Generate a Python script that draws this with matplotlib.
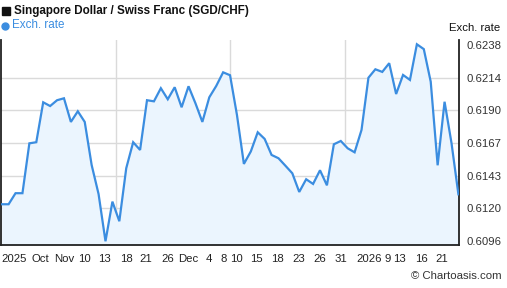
import matplotlib
matplotlib.use("Agg")
import matplotlib.pyplot as plt
from matplotlib.lines import Line2D

plt.rcParams['font.family'] = ['Liberation Sans', 'DejaVu Sans']

rates = [
    0.61227, 0.61227, 0.61307, 0.61307, 0.61668, 0.61676, 0.61965, 0.61938,
    0.61980, 0.61994, 0.61823, 0.61900, 0.61823, 0.61511, 0.61301, 0.60959,
    0.61246, 0.61104, 0.61488, 0.61676, 0.61620, 0.61980, 0.61972, 0.62067,
    0.61987, 0.62074, 0.61929, 0.62081, 0.61958, 0.61823, 0.62001, 0.62083,
    0.62182, 0.62161, 0.61873, 0.61519, 0.61609, 0.61748, 0.61700, 0.61584,
    0.61560, 0.61506, 0.61451, 0.61316, 0.61408, 0.61374, 0.61473, 0.61364,
    0.61661, 0.61685, 0.61632, 0.61603, 0.61765, 0.62143, 0.62204, 0.62185,
    0.62248, 0.62025, 0.62163, 0.62127, 0.62385, 0.62350, 0.62114, 0.61509,
    0.61969, 0.61671, 0.61299,
]

ytick_vals = [0.6096, 0.61197, 0.61433, 0.6167, 0.61907, 0.62143, 0.6238]
ytick_labels = ["0.6096", "0.6120", "0.6143", "0.6167", "0.6190", "0.6214", "0.6238"]

xtick_labels = ["2025", "Oct", "Nov", "10", "13", "18", "21", "26", "Dec", "4", "8", "10",
                "15", "18", "23", "26", "31", "2026", "9", "13", "16", "21"]
xtick_pos = [1.78, 5.53, 9.0, 11.9, 14.9, 17.96, 20.85, 24.0, 26.9, 29.96, 32.05, 33.86,
             36.75, 39.8, 42.96, 46.0, 49.03, 53.1, 55.85, 57.5, 60.6, 63.65]

W, H = 507, 288
fig = plt.figure(figsize=(W / 100, H / 100), dpi=100)
ax = fig.add_axes([1 / W, (H - 245) / H, (459.3 - 1) / W, (245 - 40) / H])

x = list(range(len(rates)))
xmin, xmax = -0.1, 66.13
ymin, ymax = 0.60932, 0.62416
ax.set_xlim(xmin, xmax)
ax.set_ylim(ymin, ymax)

grid_c = "#dadada"
for v in ytick_vals[1:-1]:
    ax.axhline(v, color=grid_c, lw=1, zorder=1)
for f in (0.25, 0.5, 0.75):
    ax.axvline(xmin + f * (xmax - xmin), color=grid_c, lw=1, zorder=1)

line_c = "#3b8de0"
ax.fill_between(x, rates, ymin, color="#ebf5fe", zorder=2, lw=0)
ax.plot(x, rates, color=line_c, lw=1.6, zorder=3, solid_joinstyle="miter")

ax.yaxis.tick_right()
ax.set_yticks(ytick_vals)
ax.set_yticklabels(ytick_labels)
ax.tick_params(axis="y", length=0, pad=5, labelsize=8.2, labelcolor="#333333")
ax.set_xticks([])

ax.spines["top"].set_visible(False)
for s in ("left", "bottom", "right"):
    ax.spines[s].set_color("#222222")
    ax.spines[s].set_linewidth(1.3)

for p, lab in zip(xtick_pos, xtick_labels):
    ax.text(p, -0.07, lab, transform=ax.get_xaxis_transform(), ha="center", va="center",
            fontsize=8.2, color="#222222")

# title marker and legend marker
fig.add_artist(Line2D([5.5 / W], [1 - 11 / H], marker="s", markersize=6, color="#111111",
                      linestyle="none", transform=fig.transFigure))
fig.add_artist(Line2D([4.5 / W], [1 - 25.5 / H], marker="o", markersize=5, color=line_c,
                      linestyle="none", transform=fig.transFigure))
fig.text(13.5 / W, 1 - 11 / H, "Singapore Dollar / Swiss Franc (SGD/CHF)", ha="left", va="center",
         fontsize=8.4, fontweight="bold", color="#111111")
fig.text(11.5 / W, 1 - 25 / H, "Exch. rate", ha="left", va="center", fontsize=8.4, color=line_c)
fig.text(500 / W, 1 - 28 / H, "Exch. rate", ha="right", va="center", fontsize=8.2, color="#111111")
fig.text(502 / W, 1 - 276 / H, "\u00A9 Chartoasis.com", ha="right", va="center", fontsize=8.2, color="#333333")

fig.savefig("out.png", dpi=100)
